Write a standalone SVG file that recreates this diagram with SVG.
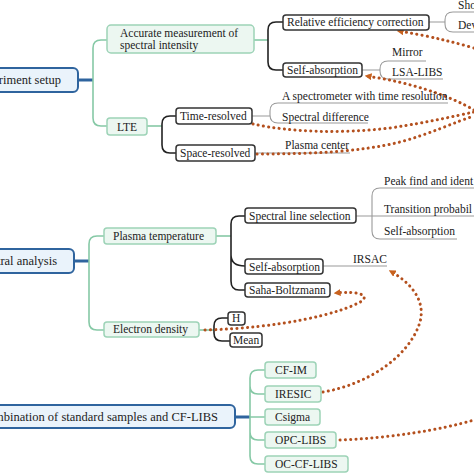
<svg xmlns="http://www.w3.org/2000/svg" width="474" height="474" viewBox="0 0 474 474">
<defs>
<style>
text{font-family:"Liberation Serif","Times New Roman",serif;font-size:11.5px;fill:#222}
.root text{font-size:12.5px}
.rb{fill:#eaf3fb;stroke:#2f649e;stroke-width:2}
.gb{fill:#ecf7f1;stroke:#9dd3b7;stroke-width:1.5}
.kb{fill:#fff;stroke:#333;stroke-width:1.5}
.thick{fill:none;stroke:#2f649e;stroke-width:3}
.gl{fill:none;stroke:#86c9a6;stroke-width:1.6}
.kl{fill:none;stroke:#222;stroke-width:1.6}
.ul{fill:none;stroke:#9a9a9a;stroke-width:1.1}
.dot{fill:none;stroke:#b4501e;stroke-width:3;stroke-dasharray:0.1 5.2;stroke-linecap:round}
</style>
<marker id="ah" viewBox="0 0 10 10" refX="8" refY="5" markerWidth="7" markerHeight="7" markerUnits="userSpaceOnUse" orient="auto">
<path d="M0,0 L10,5 L0,10 Z" fill="#c8621f"/>
</marker>
</defs>
<rect width="474" height="474" fill="#fff"/>

<g id="connectors">
<path class="thick" d="M78,80 H93"/>
<path class="gl" d="M107,40 H101 Q93,40 93,48 V118 Q93,126 101,126 H107"/>
<path class="gl" d="M254,40 H268"/>
<path class="kl" d="M283,22 H276 Q268,22 268,30 V62 Q268,70 276,70 H283"/>
<path class="ul" d="M429,22 H445 M474,12 H453 Q445,12 445,20 V24 Q445,32 453,32 H474"/>
<path class="ul" d="M362,70 H380 M426,61 H388 Q380,61 380,69 V71 Q380,79 388,79 H443"/>
<path class="gl" d="M147,126 H162"/>
<path class="kl" d="M176,116 H170 Q162,116 162,124 V145 Q162,153 170,153 H176"/>
<path class="ul" d="M252,116 H270 M448,103 H278 Q270,103 270,111 V115 Q270,123 278,123 H368"/>
<path class="ul" d="M255,153 H350"/>

<path class="thick" d="M74,261 H89"/>
<path class="gl" d="M104,236 H97 Q89,236 89,244 V322 Q89,330 97,330 H104"/>
<path class="gl" d="M216,236 H231"/>
<path class="kl" d="M245,216 H239 Q231,216 231,224 V281 Q231,290 239,290 H245 M231,255 Q231,266 245,266"/>
<path class="ul" d="M356,216 H474 M474,188 H380 Q372,188 372,196 V231 Q372,239 380,239 H457"/>
<path class="ul" d="M323,266 H387"/>
<path class="gl" d="M199,330 H214"/>
<path class="kl" d="M228,318 H222 Q214,318 214,326 V333 Q214,341 222,341 H230"/>

<path class="thick" d="M235,417 H250"/>
<path class="gl" d="M265,370 H258 Q250,370 250,378 V456 Q250,464 258,464 H265 M250,386 Q250,394 258,394 H265 M250,417 H265 M250,432 Q250,440 258,440 H265"/>

<path class="dot" d="M474,48 Q432,36 398,31" marker-end="url(#ah)"/>
<path class="dot" d="M474,110 C450,96 410,82 366,76" marker-end="url(#ah)"/>
<path class="dot" d="M253,124 C290,132 340,134 390,128 C430,122 455,116 474,112"/>
<path class="dot" d="M257,154 C310,154 360,152 400,142 C430,134 455,122 474,116"/>
<path class="dot" d="M323,392 C370,384 410,355 420,322 C426,300 410,282 390,271" marker-end="url(#ah)"/>
<path class="dot" d="M205,330 C280,328 340,314 362,301 C370,294 355,291 335,293" marker-end="url(#ah)"/>
<path class="dot" d="M340,440 C390,438 440,430 474,420"/>
</g>

<g id="experiment-setup" class="root"><rect class="rb" x="-100" y="68" width="178" height="24" rx="5"/><text x="61" y="84" text-anchor="end">Experiment setup</text></g>
<g id="accurate"><rect class="gb" x="107" y="25" width="147" height="28" rx="4"/><text x="120" y="37">Accurate measurement of</text><text x="120" y="49">spectral intensity</text></g>
<g id="rel-eff"><rect class="kb" x="283" y="15" width="146" height="15" rx="3"/><text x="287" y="26">Relative efficiency correction</text></g>
<g id="sho"><text x="458" y="9">Sho</text></g>
<g id="dev"><text x="458" y="29">Dev</text></g>
<g id="self-abs-1"><rect class="kb" x="283" y="63" width="79" height="14" rx="3"/><text x="287" y="74">Self-absorption</text></g>
<g id="mirror"><text x="392" y="56">Mirror</text></g>
<g id="lsa"><text x="392" y="76">LSA-LIBS</text></g>
<g id="lte"><rect class="gb" x="107" y="118" width="40" height="17" rx="3"/><text x="117" y="131">LTE</text></g>
<g id="time-resolved"><rect class="kb" x="176" y="108" width="76" height="16" rx="3"/><text x="180" y="120">Time-resolved</text></g>
<g id="spectrometer"><text x="282" y="100">A spectrometer with time resolution</text></g>
<g id="spec-diff"><text x="282" y="121">Spectral difference</text></g>
<g id="space-resolved"><rect class="kb" x="176" y="145" width="79" height="16" rx="3"/><text x="180" y="157">Space-resolved</text></g>
<g id="plasma-center"><text x="285" y="149">Plasma center</text></g>

<g id="spectral-analysis" class="root"><rect class="rb" x="-100" y="249" width="174" height="24" rx="5"/><text x="57" y="265" text-anchor="end">Spectral analysis</text></g>
<g id="plasma-temp"><rect class="gb" x="104" y="228" width="112" height="16" rx="3"/><text x="113" y="240">Plasma temperature</text></g>
<g id="electron-density"><rect class="gb" x="104" y="322" width="95" height="15" rx="3"/><text x="113" y="333">Electron density</text></g>
<g id="line-selection"><rect class="kb" x="245" y="208" width="111" height="15" rx="3"/><text x="249" y="220">Spectral line selection</text></g>
<g id="peak"><text x="384" y="185">Peak find and ident</text></g>
<g id="transition"><text x="384" y="213">Transition probabil</text></g>
<g id="self-abs-3"><text x="384" y="235">Self-absorption</text></g>
<g id="self-abs-2"><rect class="kb" x="245" y="259" width="78" height="15" rx="3"/><text x="249" y="271">Self-absorption</text></g>
<g id="irsac"><text x="353" y="263">IRSAC</text></g>
<g id="saha"><rect class="kb" x="245" y="283" width="85" height="14" rx="3"/><text x="249" y="294">Saha-Boltzmann</text></g>
<g id="h"><rect class="kb" x="228" y="312" width="17" height="13" rx="3"/><text x="232" y="322">H</text></g>
<g id="mean"><rect class="kb" x="230" y="333" width="32" height="14" rx="3"/><text x="233" y="344">Mean</text></g>

<g id="combination" class="root"><rect class="rb" x="-100" y="405" width="335" height="23" rx="5"/><text x="218" y="421" text-anchor="end">Combination of standard samples and CF-LIBS</text></g>
<g id="cf-im"><rect class="gb" x="265" y="362" width="51" height="16" rx="3"/><text x="275" y="374">CF-IM</text></g>
<g id="iresic"><rect class="gb" x="265" y="386" width="56" height="16" rx="3"/><text x="275" y="398">IRESIC</text></g>
<g id="csigma"><rect class="gb" x="265" y="409" width="55" height="16" rx="3"/><text x="275" y="421">Csigma</text></g>
<g id="opc-libs"><rect class="gb" x="265" y="432" width="71" height="16" rx="3"/><text x="275" y="444">OPC-LIBS</text></g>
<g id="oc-cf-libs"><rect class="gb" x="265" y="456" width="83" height="16" rx="3"/><text x="275" y="468">OC-CF-LIBS</text></g>
</svg>
